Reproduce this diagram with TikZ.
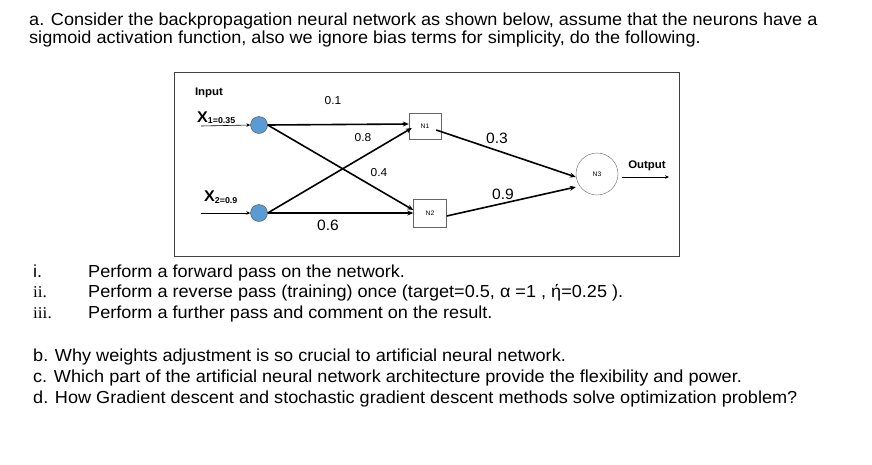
\documentclass[tikz,border=0pt]{standalone}
\usepackage{fontspec}
\setmainfont{Liberation Sans}[FakeStretch=1.04]
\newfontfamily\romanfont{Liberation Serif}[FakeStretch=1.04]
\usetikzlibrary{arrows.meta,positioning}

\begin{document}
\begin{tikzpicture}[x=1pt, y=-1pt,
    question/.style={anchor=base west, inner sep=0pt, font=\fontsize{17.4}{19}\selectfont},
    input neuron/.style={circle, draw=black!70, fill={rgb,255:red,91;green,155;blue,213}, minimum size=17pt, inner sep=0pt},
    hidden neuron/.style={draw=black!60, minimum width=32pt, minimum height=26pt, inner sep=0pt, font=\fontsize{6.5}{7}\selectfont},
    output neuron/.style={circle, draw=black!60, minimum size=42pt, inner sep=0pt, font=\fontsize{6.5}{7}\selectfont},
    weight/.style={-{Stealth[length=6pt, width=5pt]}, line width=1.6pt},
    feed/.style={-{Stealth[length=4pt, width=3.5pt]}, line width=0.6pt},
    small weight/.style={font=\fontsize{11.5}{12}\selectfont},
    big weight/.style={font=\fontsize{15}{16}\selectfont}
]
\useasboundingbox (0,0) rectangle (872,464);

% Question text
\node[question] (qa1) at (29,25) {a. Consider the backpropagation neural network as shown below, assume that the neurons have a};
\node[question] (qa2) at (29,43) {sigmoid activation function, also we ignore bias terms for simplicity, do the following.};

% Frame of the network
\draw[line width=0.9pt, black!75] (174,72) rectangle (679,256);

% Input layer
\node[font=\bfseries\fontsize{11}{12}\selectfont] (input) at (209,93) {Input};
\node[input neuron] (x1) at (259,125) {};
\node[input neuron] (x2) at (259,213) {};
\node[anchor=base west, inner sep=0pt] (x1lab) at (197,122) {\bfseries\fontsize{15.5}{16}\selectfont X\raisebox{-1.5pt}{\fontsize{8.5}{9}\selectfont 1=0.35}};
\node[anchor=base west, inner sep=0pt] (x2lab) at (204,201) {\bfseries\fontsize{15.5}{16}\selectfont X\raisebox{-2pt}{\fontsize{8.5}{9}\selectfont 2=0.9}};
\coordinate (x1in) at (201,126);
\coordinate (x2in) at (201,213);
\draw[feed] (x1in) -- (x1.west);
\draw[feed] (x2in) -- (x2.west);

% Hidden layer
\node[hidden neuron] (n1) at (425,126) {N1};
\node[hidden neuron, minimum width=33pt, minimum height=28pt] (n2) at (430,213) {N2};

% Output layer
\node[output neuron] (n3) at (597,174) {N3};
\node[font=\bfseries\fontsize{11}{12}\selectfont] (output) at (647,166) {Output};
\coordinate (out) at (669,177);
\draw[feed] (n3.east |- out) ++(4,0) -- (out);

% Weighted connections
\draw[weight] (x1.east) -- ([yshift=2pt]n1.west);
\draw[weight] (x1.east) -- ([yshift=3pt]n2.west);
\draw[weight] (x2.east) -- ([shift={(3pt,-2pt)}]n1.west);
\draw[weight] (x2.east) -- (n2.west);
\draw[weight] ([shift={(-5pt,-4pt)}]n1.east) -- ([yshift=-3pt]n3.west);
\draw[weight] ([yshift=-3pt]n2.east) -- ([yshift=-13pt]n3.west);

% Weight labels
\node[small weight] (w11) at (333,101) {0.1};
\node[small weight] (w21) at (363,138) {0.8};
\node[small weight] (w12) at (379,173) {0.4};
\node[big weight] (w22) at (328,225) {0.6};
\node[big weight] (w13) at (497,138) {0.3};
\node[big weight] (w23) at (503,194) {0.9};

% Tasks
\node[question] (ti) at (33,277) {i.};
\node[question, font=\romanfont\fontsize{16.5}{18}\selectfont] (tii) at (33,297) {ii.};
\node[question, font=\romanfont\fontsize{16.5}{18}\selectfont] (tiii) at (33,318) {iii.};
\node[question] (pi) at (88,277) {Perform a forward pass on the network.};
\node[question] (pii) at (88,297) {Perform a reverse pass (training) once (target=0.5, α =1 , ή=0.25 ).};
\node[question] (piii) at (88,318) {Perform a further pass and comment on the result.};

% Further questions
\node[question] (qb) at (33,361) {b. Why weights adjustment is so crucial to artificial neural network.};
\node[question] (qc) at (33,382) {c. Which part of the artificial neural network architecture provide the flexibility and power.};
\node[question] (qd) at (33,403) {d. How Gradient descent and stochastic gradient descent methods solve optimization problem?};

\end{tikzpicture}
\end{document}
